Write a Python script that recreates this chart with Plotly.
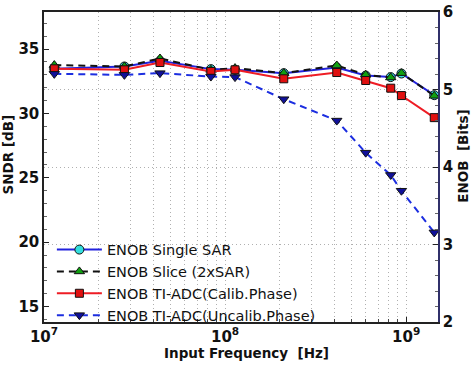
import plotly.graph_objects as go

freq_hz = [1.14e7, 2.78e7, 4.37e7, 8.35e7, 1.135e8, 2.11e8, 4.14e8, 5.98e8, 8.22e8, 9.42e8, 1.43e9]
enob_single = [5.267, 5.297, 5.37, 5.263, 5.254, 5.211, 5.284, 5.18, 5.16, 5.206, 4.927]
enob_slice = [5.315, 5.297, 5.40, 5.254, 5.276, 5.211, 5.31, 5.19, 5.155, 5.211, 4.918]
enob_calib = [5.267, 5.254, 5.348, 5.232, 5.254, 5.138, 5.219, 5.116, 5.017, 4.922, 4.637]
enob_uncalib = [5.202, 5.189, 5.211, 5.167, 5.16, 4.875, 4.599, 4.185, 3.897, 3.694, 3.156]

names = ["ENOB Single SAR", "ENOB Slice (2xSAR)", "ENOB TI-ADC(Calib.Phase)", "ENOB TI-ADC(Uncalib.Phase)"]
x_tickvals = [1e7, 1e8, 1e9]
x_ticktext = ["10<sup>7</sup>", "10<sup>8</sup>", "10<sup>9</sup>"]
sndr_ticks = [15, 20, 25, 30, 35]
enob_ticks = [2, 3, 4, 5, 6]
x_title = "Input Frequency\u00a0\u00a0[Hz]"
y_title = "SNDR [dB]"
y2_title = "ENOB\u00a0\u00a0[Bits]"

fig = go.Figure()

styles = [
    (enob_single, dict(color="#2222dd", width=2, dash="solid"), dict(symbol="circle", color="#33dede", size=9)),
    (enob_slice, dict(color="#111111", width=2, dash="7px,5px"), dict(symbol="triangle-up", color="#10a010", size=9)),
    (enob_calib, dict(color="#ee1c24", width=2, dash="solid"), dict(symbol="square", color="#e01010", size=8)),
    (enob_uncalib, dict(color="#1c2ee0", width=2, dash="7px,5px"), dict(symbol="triangle-down", color="#10109a", size=9)),
]
for (vals, line, marker), name in zip(styles, names):
    marker = dict(marker, line=dict(color="#111111", width=1))
    fig.add_trace(go.Scatter(x=freq_hz, y=vals, name=name, mode="lines+markers",
                             line=line, marker=marker, yaxis="y2"))

# dummy trace to activate left axis
fig.add_trace(go.Scatter(x=[freq_hz[0]], y=[sndr_ticks[0]], mode="markers",
                         marker=dict(opacity=0), showlegend=False, hoverinfo="skip"))

font_main = "DejaVu Sans"
grid_dash = "1px,3px"
fig.update_layout(
    width=474, height=365,
    margin=dict(l=44, r=36, t=12, b=43),
    paper_bgcolor="white", plot_bgcolor="white",
    showlegend=True,
    legend=dict(x=0.02, y=0.285, xanchor="left", yanchor="top",
                bgcolor="rgba(255,255,255,0)", borderwidth=0,
                font=dict(family=font_main, size=14.5, color="#111111"),
                tracegroupgap=0, itemwidth=45),
    xaxis=dict(type="log", range=[7, 9.176], tickvals=x_tickvals, ticktext=x_ticktext,
               automargin=False,
               showgrid=True, gridcolor="#b0b0b0", griddash=grid_dash, gridwidth=1,
               ticks="inside", ticklen=5, tickcolor="#222",
               showline=True, linecolor="#222", linewidth=1.5, mirror=True,
               minor=dict(dtick="D1", showgrid=True, gridcolor="#b0b0b0", griddash=grid_dash,
                          ticks="inside", ticklen=3, tickcolor="#444"),
               tickfont=dict(family=font_main, size=15, color="#111", weight="bold")),
    yaxis=dict(range=[13.8, 37.88], tickvals=sndr_ticks, showgrid=False,
               automargin=False,
               ticks="inside", ticklen=5, tickcolor="#222",
               minor=dict(dtick=1, ticks="inside", ticklen=3, tickcolor="#666"),
               showline=True, linecolor="#222", linewidth=1.5, zeroline=False,
               tickfont=dict(family=font_main, size=15, color="#111", weight="bold")),
    yaxis2=dict(range=[2, 6], tickvals=enob_ticks, overlaying="y", side="right",
                automargin=False,
                showgrid=True, gridcolor="#b0b0b0", griddash=grid_dash, gridwidth=1,
                ticks="inside", ticklen=5, tickcolor="#222",
                minor=dict(dtick=0.2, ticks="inside", ticklen=3, tickcolor="#666"),
                showline=True, linecolor="#30306a", linewidth=1.5, zeroline=False,
                tickfont=dict(family=font_main, size=15, color="#111", weight="bold")),
    annotations=[
        dict(text=x_title, xref="paper", yref="paper", x=0.515, y=-0.1,
             xanchor="center", yanchor="middle", showarrow=False,
             font=dict(family=font_main, size=13.5, color="#111", weight="bold")),
        dict(text=y_title, xref="paper", yref="paper", x=-0.0901, y=0.5387,
             xanchor="center", yanchor="middle", showarrow=False, textangle=-90,
             font=dict(family=font_main, size=13.5, color="#111", weight="bold")),
        dict(text=y2_title, xref="paper", yref="paper", x=1.0635, y=0.533,
             xanchor="center", yanchor="middle", showarrow=False, textangle=-90,
             font=dict(family=font_main, size=13.5, color="#111", weight="bold")),
    ],
)
fig.write_html("out.html", config={"displayModeBar": False},
               post_script="document.body.style.margin='0';document.body.style.overflow='hidden';")
